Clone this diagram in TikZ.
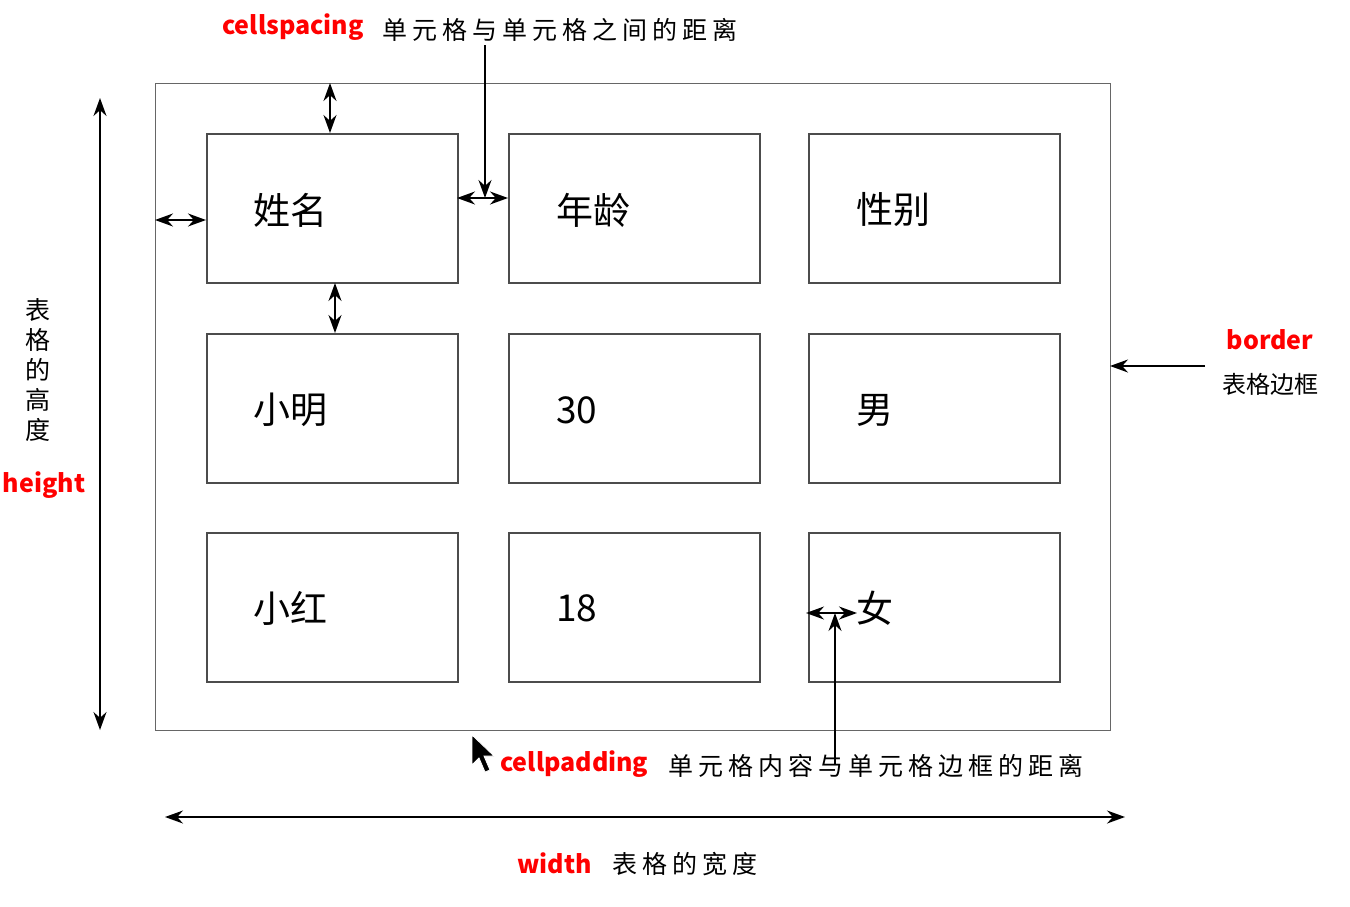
\documentclass[tikz,border=0pt]{standalone}
\usepackage{fontspec}
\setmainfont{Noto Sans CJK SC}
\newfontfamily\zhsp[LetterSpace=20]{Noto Sans CJK SC}
\usetikzlibrary{arrows.meta}
\begin{document}
\begin{tikzpicture}[x=1pt,y=-1pt,
  cellbox/.style={draw=black!70,line width=1.5pt},
  dbl/.style={{Stealth[length=18pt,width=13pt]}-{Stealth[length=18pt,width=13pt]},line width=1.6pt},
  sgl/.style={-{Stealth[length=18pt,width=13pt]},line width=1.6pt},
  red/.style={text=red,font=\bfseries\fontsize{25}{28}\selectfont,inner sep=0},
  lbl/.style={font=\zhsp\fontsize{25}{28}\selectfont,inner sep=0},
  ct/.style={font=\fontsize{37}{40}\selectfont,anchor=west,inner sep=0}]
\useasboundingbox (0,0) rectangle (1350,906);
\node[draw=black!60,line width=1.2pt,minimum width=955pt,minimum height=647pt,anchor=north west,inner sep=0] (tbl) at (155,83) {};
\foreach \c/\x in {1/206,2/508,3/808}{
 \foreach \r/\y in {1/133,2/333,3/532}{
  \node[cellbox,minimum width=251pt,minimum height=149pt,anchor=north west,inner sep=0] (c\r\c) at (\x,\y) {};
 }}
\node[ct] at (253,210) {姓名};
\node[ct] at (556,210) {年龄};
\node[ct] at (856,210) {性别};
\node[ct] at (253,410) {小明};
\node[ct] at (556,410) {30};
\node[ct] at (856,410) {男};
\node[ct] at (253,608) {小红};
\node[ct] at (556,608) {18};
\node[ct] at (856,608) {女};
% cellspacing arrows
\draw[dbl] (330,83) -- (330,133);
\draw[dbl] (155,220) -- (206,220);
\draw[dbl] (457,198) -- (508,198);
\draw[dbl] (335,283) -- (335,333);
\node[red,anchor=west] (cs) at (222,27) {cellspacing};
\node[lbl,anchor=west] (csz) at (382,30) {单元格与单元格之间的距离};
\coordinate (csa) at (485,45);
\draw[sgl] (csa) -- (485,198);
% cellpadding
\draw[dbl] (806,613) -- (857,613);
\coordinate (cpa) at (835,765);
\draw[sgl] (cpa) -- (835,613);
\node[red,anchor=west] (cp) at (500,764) {cellpadding};
\node[lbl,anchor=west] (cpz) at (668,766) {单元格内容与单元格边框的距离};
% cursor
\draw[fill=black,draw=white,line width=0.8pt] (472,735) -- (472,765) -- (479,758) -- (485,772) -- (490,770) -- (484,756) -- (494,756) -- cycle;
% height
\draw[dbl] (100,98) -- (100,730);
\node[font=\fontsize{25}{28}\selectfont,align=center,inner sep=0] (hz) at (38,370) {表\\[2pt]格\\[2pt]的\\[2pt]高\\[2pt]度};
\node[red] (h) at (44,485) {height};
% width
\draw[dbl] (165,817) -- (1125,817);
\node[red,anchor=west] (w) at (517,863) {width};
\node[lbl,anchor=west] (wz) at (612,864) {表格的宽度};
% border
\coordinate (ba) at (1205,366);
\draw[sgl] (ba) -- (1110,366);
\node[red] (b) at (1270,340) {border};
\node[font=\fontsize{24}{26}\selectfont,inner sep=0] (bz) at (1270,384) {表格边框};
\end{tikzpicture}
\end{document}
